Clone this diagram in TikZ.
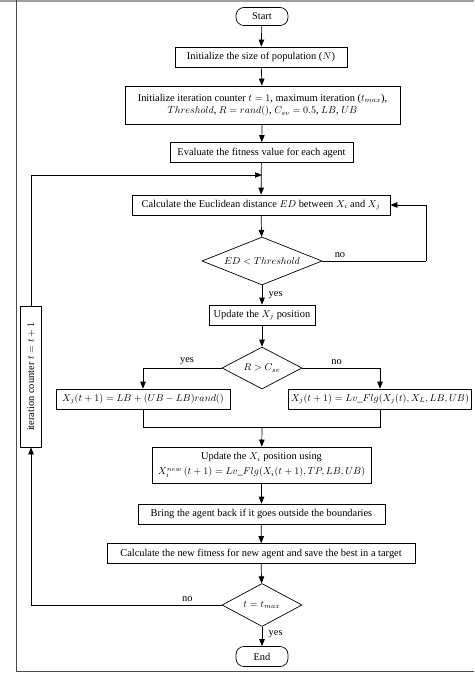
\documentclass[tikz,border=0pt]{standalone}
\usepackage{fontspec}
\setmainfont{Liberation Serif}
\usetikzlibrary{shapes.geometric,arrows.meta}
\begin{document}
\begin{tikzpicture}[x=1pt,y=-1pt,
  every node/.style={font=\fontsize{10.4}{12.5}\selectfont},
  procbox/.style={draw,line width=0.7pt,minimum height=20pt,inner sep=2.5pt,align=center},
  termbox/.style={draw,line width=0.7pt,rounded corners=8pt,minimum width=52pt,minimum height=18pt,inner sep=2pt},
  decbox/.style={draw,diamond,aspect=2.5,line width=0.7pt,inner sep=0pt},
  arr/.style={line width=0.7pt,-{Triangle[length=7pt,width=5.5pt]}},
  ln/.style={line width=0.7pt},
  lbl/.style={font=\fontsize{10.4}{12}\selectfont}]
\useasboundingbox (0,0) rectangle (474,687);
% frame
\fill[gray!75] (0,0) rectangle (474,2.5);
\draw[line width=0.8pt,gray!60!black] (16,0) -- (16,671) -- (474,671);
% nodes
\node[termbox] (start) at (262,16.5) {Start};
\node[procbox,minimum width=172pt] (b1) at (261,57) {Initialize the size of population ($N$)};
\node[procbox,minimum width=275pt,minimum height=38pt] (b2) at (262.5,105) {Initialize iteration counter $t=1$, maximum iteration ($t_{max}$),\\ $Threshold$, $R=rand()$, $C_{sv}=0.5$, $LB$, $UB$};
\node[procbox,minimum width=183pt] (b3) at (261.5,152.5) {Evaluate the fitness value for each agent};
\coordinate (j1) at (262,175);
\node[procbox,minimum width=258pt] (b4) at (261,205) {Calculate the Euclidean distance $ED$ between $X_i$ and $X_j$};
\node[decbox,minimum width=120pt,minimum height=48pt] (d1) at (262,261) {$ED<Threshold$};
\node[procbox,minimum width=106pt] (b5) at (262,315) {Update the $X_j$ position};
\node[decbox,minimum width=80pt,minimum height=42pt] (d2) at (262,368) {$R>C_{sv}$};
\node[procbox,minimum width=174pt] (b6) at (143,399) {$X_j(t+1)=LB+(UB-LB)rand()$};
\node[procbox,minimum width=171pt] (b7) at (380,399) {$X_j(t+1)=Lv\_Flg(X_j(t),X_L,LB,UB)$};
\coordinate (m1) at (143,427);
\coordinate (m2) at (380,427);
\coordinate (m0) at (262,427);
\node[procbox,minimum width=219pt,minimum height=36pt,inner sep=1.5pt] (b8) at (261.5,465) {Update the $X_i$ position using\\[2.5pt] $X_i^{new}\,(t+1)=Lv\_Flg(X_i(t+1),TP,LB,UB)$};
\node[procbox,minimum width=247pt] (b9) at (261.5,514) {Bring the agent back if it goes outside the boundaries};
\node[procbox,minimum width=308pt] (b10) at (261,553.5) {Calculate the new fitness for new agent and save the best in a target};
\node[decbox,minimum width=80pt,minimum height=43pt] (d3) at (262,605) {$t=t_{max}$};
\node[termbox,minimum height=20pt] (end) at (262,656.5) {End};
\node[procbox,rotate=90,minimum width=141pt,minimum height=21pt] (it) at (31,376.5) {iteration counter $t=t+1$};
\coordinate (r1) at (426,261);
% connectors
\draw[arr] (start) -- (b1);
\draw[arr] (b1) -- (b2);
\draw[arr] (b2) -- (b3);
\draw[arr] (b3) -- (b4);
\draw[arr] (it.east) |- (j1);
\draw[arr] (b4) -- (d1);
\draw[arr] (d1) -- node[lbl,right,pos=0.5,xshift=3pt] {yes} (b5);
\draw[ln] (d1.east) -- node[lbl,above,pos=0.17] {no} (r1);
\draw[arr] (r1) |- (b4.east);
\draw[arr] (b5) -- (d2);
\draw[arr] (d2.west) -| node[lbl,above,pos=0.22] {yes} (b6.north);
\draw[arr] (d2.east) -| node[lbl,above,pos=0.22] {no} (b7.north);
\draw[ln] (b6.south) -- (m1) -- (m2) -- (b7.south);
\draw[arr] (m0) -- (b8);
\draw[arr] (b8) -- (b9);
\draw[arr] (b9) -- (b10);
\draw[arr] (b10) -- (d3);
\draw[arr] (d3) -- node[lbl,right,pos=0.4,xshift=3pt] {yes} (end);
\draw[arr] (d3.west) -| node[lbl,above,pos=0.09] {no} (it.west);
\end{tikzpicture}
\end{document}
